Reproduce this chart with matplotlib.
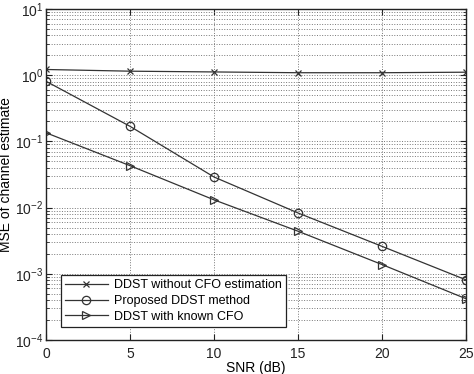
import numpy as np
import matplotlib.pyplot as plt
from matplotlib.ticker import LogLocator, NullFormatter

snr = [0, 5, 10, 15, 20, 25]
mse_no_cfo = [1.22, 1.15, 1.12, 1.09, 1.09, 1.11]
mse_proposed = [0.81, 0.169, 0.029, 0.0083, 0.0026, 0.00081]
mse_known = [0.135, 0.043, 0.0131, 0.0044, 0.00138, 0.00042]
labels = ['DDST without CFO estimation', 'Proposed DDST method', 'DDST with known CFO']

plt.rcParams['font.family'] = ['Liberation Sans', 'DejaVu Sans']
plt.rcParams['font.size'] = 10

fig = plt.figure(figsize=(4.74, 3.74), dpi=100)
ax = fig.add_axes([46/474, 1 - 340/374, (466-46)/474, (340-9)/374])

ax.semilogy(snr, mse_no_cfo, color='#333333', lw=0.9, marker='x', ms=4.5, mew=0.9, label=labels[0])
ax.semilogy(snr, mse_proposed, color='#333333', lw=0.9, marker='o', ms=6, mfc='none', mew=0.9, label=labels[1])
ax.semilogy(snr, mse_known, color='#333333', lw=0.9, marker='>', ms=6, mfc='none', mew=0.9, label=labels[2])

ax.set_xlim(0, 25)
ax.set_ylim(1e-4, 10)
ax.set_xticks(snr)
ax.yaxis.set_major_locator(LogLocator(base=10, numticks=10))
ax.yaxis.set_minor_locator(LogLocator(base=10, subs=np.arange(2, 10), numticks=10))
ax.yaxis.set_minor_formatter(NullFormatter())
ax.tick_params(direction='in', which='both', top=True, right=True, colors='#222222', labelsize=10)
ax.tick_params(which='major', length=4)
ax.tick_params(which='minor', length=2)
ax.tick_params(axis='x', pad=5)
ax.tick_params(axis='y', pad=2)
ax.grid(True, which='major', ls=':', color='#777777', lw=0.7)
ax.grid(True, which='minor', axis='y', ls=':', color='#777777', lw=0.7)
for s in ax.spines.values():
    s.set_color('#222222')
    s.set_linewidth(1.0)

ax.set_xlabel('SNR (dB)', fontsize=10)
ax.set_ylabel('MSE of channel estimate', fontsize=10)
ax.xaxis.set_label_coords(0.5, -21/331)
ax.yaxis.set_label_coords(-33/420, 0.5)

leg = ax.legend(loc='lower left', fontsize=9, fancybox=False, framealpha=1,
                edgecolor='#222222', handlelength=3.4, handletextpad=0.5,
                borderpad=0.35, labelspacing=0.3, bbox_to_anchor=(0.02, 0.02))
leg.get_frame().set_linewidth(0.9)

fig.savefig('out.png', dpi=100)
